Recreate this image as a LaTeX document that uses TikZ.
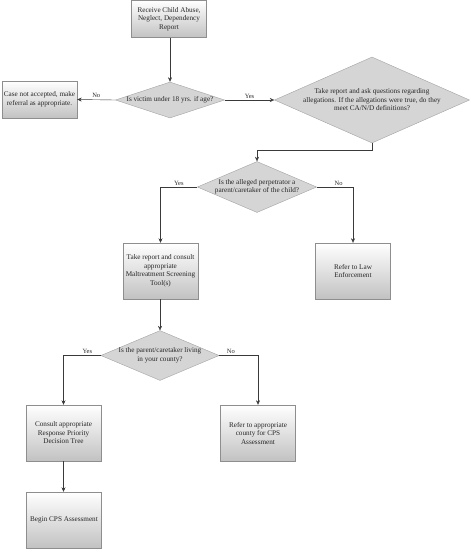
\documentclass[tikz,border=0pt]{standalone}
\usepackage{fontspec}
\setmainfont{Liberation Serif}
\usetikzlibrary{positioning,shapes.geometric,arrows.meta}

\definecolor{boxline}{HTML}{8E8E8E}
\definecolor{boxlow}{HTML}{C2C2C2}
\definecolor{decfill}{HTML}{D5D5D5}
\definecolor{decline}{HTML}{A2A2A2}
\definecolor{flow}{HTML}{3A3A3A}

\tikzset{
    stepbox/.style={rectangle, draw=boxline, top color=white, bottom color=boxlow,
        align=center, inner sep=1pt, minimum width=75pt},
    decide/.style={diamond, draw=decline, fill=decfill, inner sep=0pt, align=center},
    flowline/.style={draw=flow, -{Stealth[length=4.5pt,width=4pt]}},
    answer/.style={font=\fontsize{6.5}{7}\selectfont, inner sep=1.5pt}
}

\begin{document}
\begin{tikzpicture}[x=1pt, y=-1pt, font=\fontsize{7.2}{8.5}\selectfont, text=black!85]
    \useasboundingbox (0,0) rectangle (474,549);

    % boxes and decisions
    \node[stepbox, minimum height=37pt] (receive) at (169,19) {Receive Child Abuse,\\Neglect, Dependency\\Report};
    \node[decide, aspect=3.03, minimum width=109pt, minimum height=36pt] (age) at (170,100) {Is victim under 18 yrs. if age?};
    \node[stepbox, minimum height=37pt] (notaccepted) at (39.5,99.5) {Case not accepted, make\\referral as appropriate.};
    \node[decide, aspect=2.27, minimum width=195pt, minimum height=86pt] (allegations) at (372,100)
        {Take report and ask questions regarding\\allegations. If the allegations were true, do they\\meet CA/N/D definitions?};
    \node[decide, aspect=2.34, minimum width=117pt, minimum height=50pt] (perp) at (257,187)
        {Is the alleged perpetrator a\\parent/caretaker of the child?};
    \node[stepbox, minimum height=56pt] (screening) at (160.5,271) {Take report and consult\\appropriate\\Maltreatment Screening\\Tool(s)};
    \node[stepbox, minimum height=56pt] (law) at (353,271) {Refer to Law\\Enforcement};
    \node[decide, aspect=2.37, minimum width=116pt, minimum height=49pt] (county) at (160,355.5)
        {Is the parent/caretaker living\\in your county?};
    \node[stepbox, minimum height=56pt] (priority) at (63.5,433) {Consult appropriate\\Response Priority\\Decision Tree};
    \node[stepbox, minimum height=56pt] (othercounty) at (258,433) {Refer to appropriate\\county for CPS\\Assessment};
    \node[stepbox, minimum height=56pt] (begin) at (64,520) {Begin CPS Assessment};

    % connectors
    \draw[flowline] (receive.south -| age.north) -- (age.north);
    \draw[flowline] (age.west) -- node[answer, above] {No} (notaccepted.east);
    \draw[flowline] (age.east) -- node[answer, above] {Yes} (allegations.west);
    \draw[flowline] (allegations.south) -- ++(0,7) -| (perp.north);
    \draw[flowline] (perp.west) -| node[answer, above, pos=0.25] {Yes} (screening.north);
    \draw[flowline] (perp.east) -| node[answer, above, pos=0.3] {No} (law.north);
    \draw[flowline] (screening.south -| county.north) -- (county.north);
    \draw[flowline] (county.west) -| node[answer, above, pos=0.18] {Yes} (priority.north);
    \draw[flowline] (county.east) -| node[answer, above, pos=0.15] {No} (othercounty.north);
    \draw[flowline] (priority.south) -- (priority.south |- begin.north);
\end{tikzpicture}
\end{document}
